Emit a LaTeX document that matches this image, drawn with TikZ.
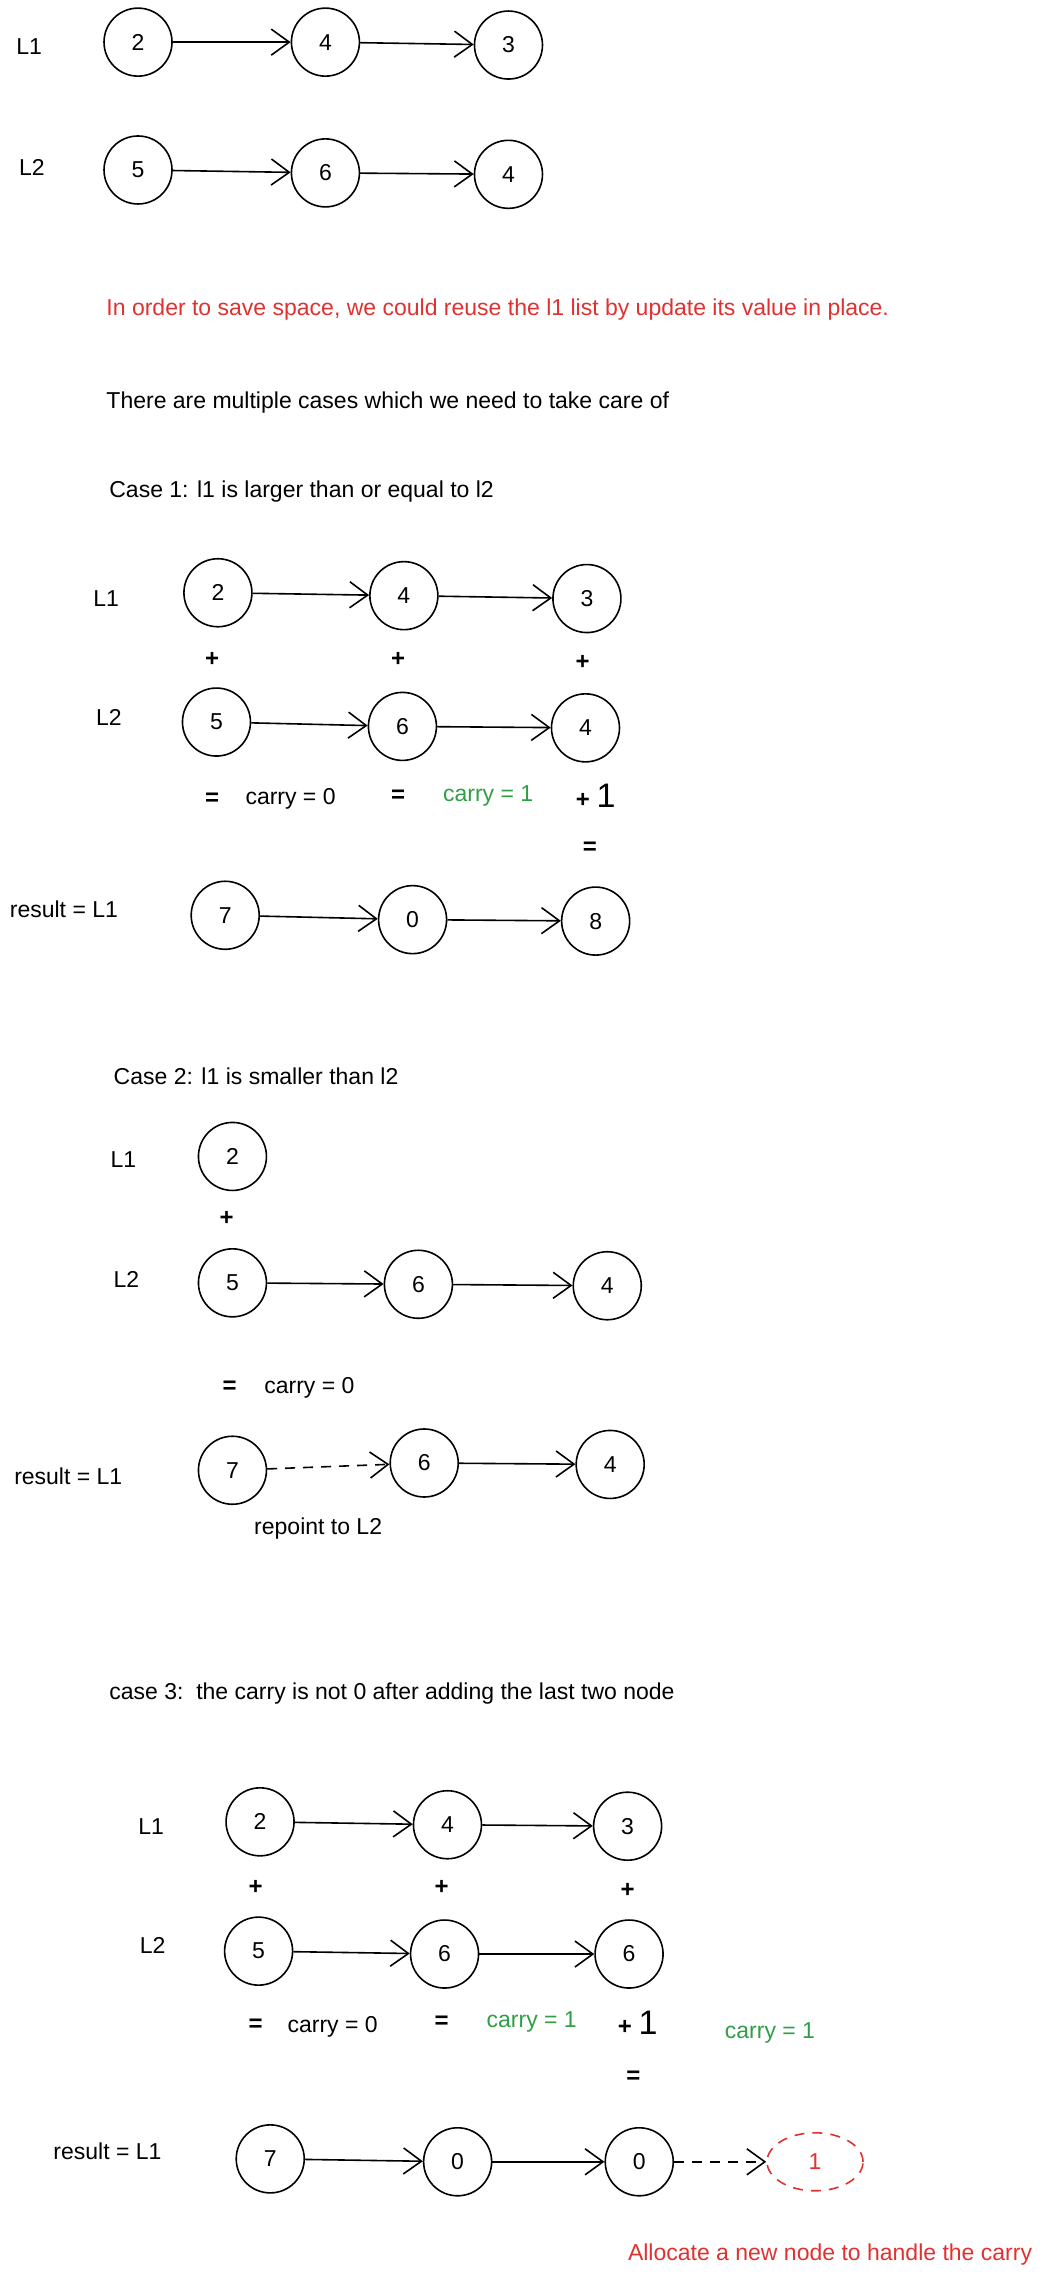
\documentclass[tikz,border=0pt]{standalone}
\usepackage{fontspec}
\setmainfont{Liberation Sans}
\usetikzlibrary{positioning, arrows.meta, shapes.geometric}
\definecolor{notered}{HTML}{E03131}
\definecolor{carrygreen}{HTML}{2F9E44}

\begin{document}
\begin{tikzpicture}[
  x=0.7263pt, y=-0.7263pt,
  font=\fontsize{11.5}{14}\selectfont, >={Straight Barb[length=9pt, width=13pt]},
  item/.style={draw, circle, minimum size=34pt, inner sep=0pt, line width=0.8pt},
  newitem/.style={draw=notered, ellipse, dash pattern=on 5pt off 4pt, minimum width=48pt,
    minimum height=29pt, inner sep=0pt, text=notered, line width=0.8pt},
  link/.style={->, line width=0.8pt},
  relink/.style={link, dash pattern=on 5pt off 4pt},
  txt/.style={anchor=west, inner sep=0pt},
  note/.style={txt, text=notered},
  hint/.style={text=carrygreen},
  op/.style={font=\fontsize{12}{14}\selectfont\bfseries},
]
\useasboundingbox (0,0) rectangle (718,1568);
% ---- the two input lists ----
\node (tagA) at (20,32) {L1};
\node (tagB) at (22,115) {L2};
\node[item] (a1) at (95,29) {2};
\node[item] (a2) at (224,29) {4};
\node[item] (a3) at (350,31) {3};
\node[item] (b1) at (95,117) {5};
\node[item] (b2) at (224,119) {6};
\node[item] (b3) at (350,120) {4};
\draw[link] (a1) -- (a2);
\draw[link] (a2) -- (a3);
\draw[link] (b1) -- (b2);
\draw[link] (b2) -- (b3);
% ---- notes ----
\node[note] (save) at (73,213)
  {In order to save space, we could reuse the l1 list by update its value in place.};
\node[txt] (cases) at (73,277) {There are multiple cases which we need to take care of};
% ---- case 1 ----
\node[txt] (caseA) at (75,338) {Case 1: l1 is larger than or equal to l2};
\node (tagA1) at (73,412) {L1};
\node (tagB1) at (75,494) {L2};
\node[item] (ca1) at (150,408) {2};
\node[item] (ca2) at (278,410) {4};
\node[item] (ca3) at (404,412) {3};
\node[op] (plusA1) at (146,454) {+};
\node[op] (plusA2) at (274,454) {+};
\node[op] (plusA3) at (401,456) {+};
\node[item] (cb1) at (149,497) {5};
\node[item] (cb2) at (277,500) {6};
\node[item] (cb3) at (403,501) {4};
\node[op] (eqA1) at (146,550) {=};
\node (carA1) at (200,550) {carry = 0};
\node[op] (eqA2) at (274,548) {=};
\node[hint] (carA2) at (336,548) {carry = 1};
\node[op] (oneA) at (410,548) {+ {\fontsize{17}{18}\selectfont\mdseries 1}};
\node[op] (eqA3) at (406,584) {=};
\node (resA) at (44,626) {result = L1};
\node[item] (cr1) at (155,630) {7};
\node[item] (cr2) at (284,633) {0};
\node[item] (cr3) at (410,634) {8};
\draw[link] (ca1) -- (ca2);
\draw[link] (ca2) -- (ca3);
\draw[link] (cb1) -- (cb2);
\draw[link] (cb2) -- (cb3);
\draw[link] (cr1) -- (cr2);
\draw[link] (cr2) -- (cr3);
% ---- case 2 ----
\node[txt] (caseB) at (78,741) {Case 2: l1 is smaller than l2};
\node (tagA2) at (85,798) {L1};
\node (tagB2) at (87,881) {L2};
\node[item] (da1) at (160,796) {2};
\node[op] (plusB1) at (156,839) {+};
\node[item] (db1) at (160,883) {5};
\node[item] (db2) at (288,884) {6};
\node[item] (db3) at (418,885) {4};
\node[op] (eqB1) at (158,955) {=};
\node (carB1) at (213,955) {carry = 0};
\node (resB) at (47,1016) {result = L1};
\node[item] (dr1) at (160,1012) {7};
\node[item] (dr2) at (292,1007) {6};
\node[item] (dr3) at (420,1008) {4};
\node (repoint) at (219,1052) {repoint to L2};
\draw[link] (db1) -- (db2);
\draw[link] (db2) -- (db3);
\draw[relink] (dr1) -- (dr2);
\draw[link] (dr2) -- (dr3);
% ---- case 3 ----
\node[txt] (caseC) at (75,1166) {case 3:\ \ the carry is not 0 after adding the last two node};
\node (tagA3) at (104,1257) {L1};
\node (tagB3) at (105,1339) {L2};
\node[item] (ea1) at (179,1254) {2};
\node[item] (ea2) at (308,1256) {4};
\node[item] (ea3) at (432,1257) {3};
\node[op] (plusC1) at (176,1299) {+};
\node[op] (plusC2) at (304,1299) {+};
\node[op] (plusC3) at (432,1301) {+};
\node[item] (eb1) at (178,1343) {5};
\node[item] (eb2) at (306,1345) {6};
\node[item] (eb3) at (433,1345) {6};
\node[op] (eqC1) at (176,1394) {=};
\node (carC1) at (229,1395) {carry = 0};
\node[op] (eqC2) at (304,1392) {=};
\node[hint] (carC2) at (366,1392) {carry = 1};
\node[op] (oneC) at (439,1392) {+ {\fontsize{17}{18}\selectfont\mdseries 1}};
\node[hint] (carC3) at (530,1399) {carry = 1};
\node[op] (eqC3) at (436,1430) {=};
\node (resC) at (74,1481) {result = L1};
\node[item] (er1) at (186,1486) {7};
\node[item] (er2) at (315,1488) {0};
\node[item] (er3) at (440,1488) {0};
\node[newitem] (er4) at (561,1488) {1};
\node[note] (alloc) at (432,1552) {Allocate a new node to handle the carry};
\draw[link] (ea1) -- (ea2);
\draw[link] (ea2) -- (ea3);
\draw[link] (eb1) -- (eb2);
\draw[link] (eb2) -- (eb3);
\draw[link] (er1) -- (er2);
\draw[link] (er2) -- (er3);
\draw[relink] (er3) -- (er4);
\end{tikzpicture}
\end{document}
